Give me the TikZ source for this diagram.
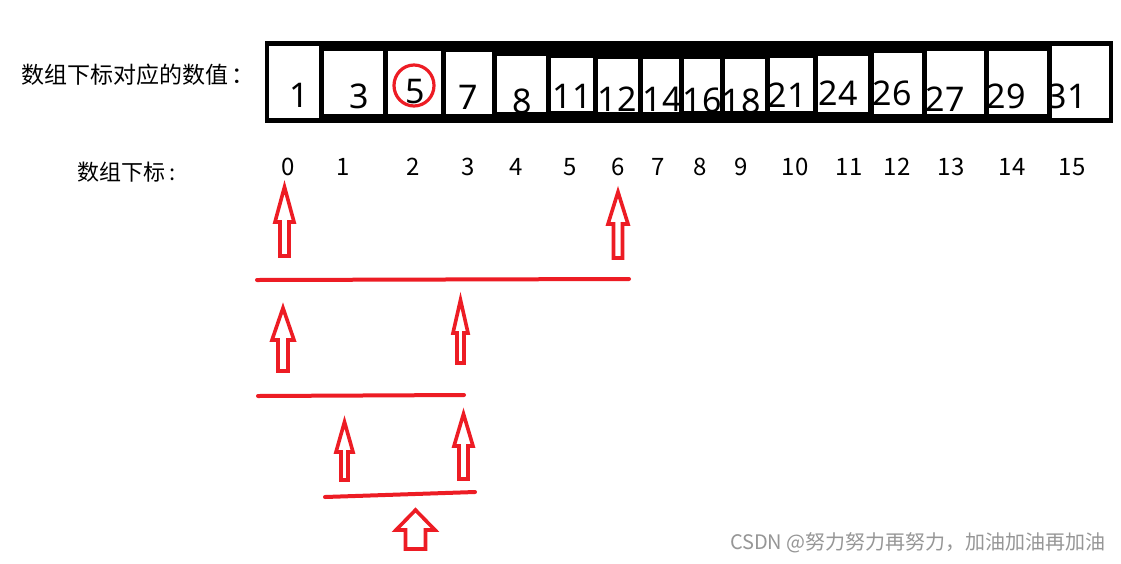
\documentclass[tikz,border=0pt]{standalone}
\usepackage{fontspec}
\newfontfamily\cellfont{Noto Sans}
\newfontfamily\cjk{Noto Sans CJK SC}
\definecolor{paintred}{RGB}{237,28,36}
\definecolor{wmgray}{RGB}{150,150,150}
\newcommand{\blockup}[7]{% name, x, tipy, headbase, headhalf, shafthalf, bottom
  \draw[redarrow] (#2,#3) -- ({#2+#5},#4) -- ({#2+#6},#4) -- ({#2+#6},#7)
    -- ({#2-#6},#7) -- ({#2-#6},#4) -- ({#2-#5},#4) -- cycle;
  \coordinate (#1) at (#2,#3);}
\begin{document}
\begin{tikzpicture}[x=1pt,y=-1pt,
  cellbox/.style={fill=white,draw=none},
  cellnum/.style={inner sep=0pt,anchor=base,font=\cellfont\fontsize{34}{34}\selectfont},
  idxnum/.style={inner sep=0pt,anchor=base,font=\cjk\fontsize{24}{24}\selectfont},
  redarrow/.style={draw=paintred,line width=3.6pt,line join=miter},
  redline/.style={draw=paintred,line width=4pt,line cap=round}]
\useasboundingbox (0,0) rectangle (1121,563);
\fill[white] (0,0) rectangle (1121,563);
% black frame
\fill[black] (265,41) rectangle (1113,123);
% white cells
\fill[white] (269,46) rectangle (319,118);
\fill[white] (324,51) rectangle (383,114);
\fill[white] (388,51) rectangle (441,114);
\fill[white] (446,52) rectangle (492,114);
\fill[white] (497,56) rectangle (546,112);
\fill[white] (551,58) rectangle (593,111);
\fill[white] (598,59) rectangle (638,112);
\fill[white] (643,59) rectangle (679,112);
\fill[white] (684,59) rectangle (720,111);
\fill[white] (725,59) rectangle (765,111);
\fill[white] (770,58) rectangle (813,111);
\fill[white] (818,56) rectangle (868,112);
\fill[white] (874,53) rectangle (922,114);
\fill[white] (927,51) rectangle (984,114);
\fill[white] (989,51) rectangle (1047,114);
\fill[white] (1052,46) rectangle (1109,118);
% cell values
\node[cellnum] (v0) at (299,107) {1};
\node[cellnum] (v1) at (359,108) {3};
\node[cellnum] (v2) at (415,103) {5};
\node[cellnum] (v3) at (468,109) {7};
\node[cellnum] (v4) at (522,113) {8};
\node[cellnum] (v5) at (572,108) {11};
\node[cellnum] (v6) at (617,111) {12};
\node[cellnum] (v7) at (662,111) {14};
\node[cellnum] (v8) at (702,112) {16};
\node[cellnum] (v9) at (741,113) {18};
\node[cellnum] (v10) at (787,107) {21};
\node[cellnum] (v11) at (838,105) {24};
\node[cellnum] (v12) at (892,105) {26};
\node[cellnum] (v13) at (945,111) {27};
\node[cellnum] (v14) at (1006,108) {29};
\node[cellnum] (v15) at (1067,108) {31};
% red circle around 5
\draw[paintred,line width=3.2pt] (414,85.5) ellipse [x radius=20,y radius=20.5];
% labels
\node[inner sep=0pt,anchor=west,font=\cjk\fontsize{23}{23}\selectfont] (lab1) at (21,75) {数组下标对应的数值\hspace{3pt}：};
\node[inner sep=0pt,anchor=west,font=\cjk\fontsize{22}{22}\selectfont] (lab2) at (77,172) {数组下标\hspace{4pt}:};
% indices
\node[idxnum] (i0) at (288,175) {0};
\node[idxnum] (i1) at (343,175) {1};
\node[idxnum] (i2) at (413,175) {2};
\node[idxnum] (i3) at (468,175) {3};
\node[idxnum] (i4) at (516,175) {4};
\node[idxnum] (i5) at (570,175) {5};
\node[idxnum] (i6) at (618,175) {6};
\node[idxnum] (i7) at (658,175) {7};
\node[idxnum] (i8) at (700,175) {8};
\node[idxnum] (i9) at (741,175) {9};
\node[idxnum] (i10) at (795,175) {10};
\node[idxnum] (i11) at (849,175) {11};
\node[idxnum] (i12) at (897,175) {12};
\node[idxnum] (i13) at (951,175) {13};
\node[idxnum] (i14) at (1012,175) {14};
\node[idxnum] (i15) at (1072,175) {15};
% arrows
\blockup{a1}{284.5}{187}{222}{9.5}{4.5}{256}
\blockup{a2}{618}{192}{224}{10}{4.5}{258}
\blockup{a3}{283}{308}{340}{11}{5}{371}
\blockup{a4}{460.5}{300}{333}{7.5}{3.5}{363}
\blockup{a5}{344.5}{422}{452}{8.5}{3.5}{480}
\blockup{a6}{463.5}{414}{446}{9.5}{4.5}{479}
\blockup{a7}{415.5}{510}{530}{19.5}{10}{549}
% lines
\coordinate (l1a) at (257,280); \coordinate (l1b) at (629,279);
\coordinate (l2a) at (258,396); \coordinate (l2b) at (464,395);
\coordinate (l3a) at (325,497); \coordinate (l3b) at (475,492);
\draw[redline] (l1a) -- (l1b);
\draw[redline] (l2a) -- (l2b);
\draw[redline] (l3a) -- (l3b);
% watermark
\node[inner sep=0pt,anchor=east,text=wmgray,font=\cjk\fontsize{20}{20}\selectfont] (wm) at (1106,543) {CSDN @努力努力再努力，加油加油再加油};
\end{tikzpicture}
\end{document}
